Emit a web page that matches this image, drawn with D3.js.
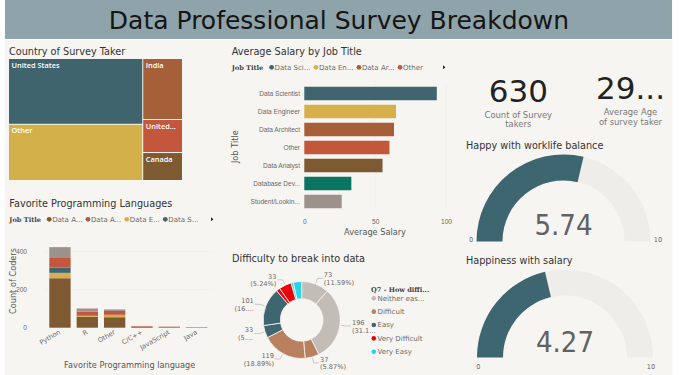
<!DOCTYPE html>
<html lang="en">
<head>
<meta charset="UTF-8" />
<title>Data Professional Survey Breakdown</title>
<script src="https://d3js.org/d3.v7.min.js"></script>
<style>
  body { margin: 0; background: #ffffff; }
  svg { display: block; font-family: "DejaVu Sans", sans-serif; }
  .panel-title { font-size: 9.7px; fill: #333; }
  .tick-label { font-size: 6.6px; fill: #6b6966; }
  .axis-title { font-size: 8.2px; fill: #555; }
  .legend-title { font-family: "DejaVu Serif", serif; font-weight: bold; font-size: 6.6px; fill: #444; }
  .legend-text { font-size: 7px; fill: #6b6966; }
  .grid { stroke: #e3e0db; stroke-width: 0.6; stroke-dasharray: 1 1.5; }
  .kpi-caption { font-size: 8.4px; fill: #777; }
</style>
</head>
<body>
<svg id="chart"></svg>
<script>
// ---- data ----
const dashboardTitle = "Data Professional Survey Breakdown";

const countries = ["United States", "Other", "India", "United Kingdom", "Canada"];
const countryCounts = [262, 224, 72, 39, 33];
const countryColors = ["#40646e", "#d4b04b", "#a5603a", "#c3563b", "#7d5a31"];

const jobTitles = ["Data Scientist", "Data Engineer", "Data Architect", "Other", "Data Analyst", "Database Developer", "Student/Looking/None"];
const avgSalary = [93.5, 64.7, 63.3, 60.1, 55.2, 33.2, 26.4];
const jobColors = ["#41656f", "#d5b04b", "#a65f38", "#c4573b", "#7d5a31", "#0c7561", "#9c928b"];
const salaryTicks = [0, 50, 100];

const languages = ["Python", "R", "Other", "C/C++", "JavaScript", "Java"];
const stackOrder = ["Data Analyst", "Data Architect", "Data Engineer", "Data Scientist", "Database Developer", "Other", "Student/Looking/None"];
const codersAnalyst   = [258, 57, 54, 4, 3, 2];
const codersArchitect = [3, 1, 2, 1, 0, 0];
const codersEngineer  = [27, 4, 10, 0, 0, 0];
const codersScientist = [26, 3, 2, 0, 0, 0];
const codersDbDev     = [2, 1, 0, 0, 0, 0];
const codersOther     = [50, 19, 20, 3, 2, 1];
const codersStudent   = [57, 16, 8, 1, 1, 0];
const coderTicks = [0, 200, 400];

const difficultyLevels = ["Neither easy nor difficult", "Difficult", "Easy", "Very Difficult", "Very Easy"];
const difficultyColors = ["#c2bdb7", "#b98060", "#3e6670", "#e8000b", "#2ad4e6"];
const difficultyPartA = [73, 37, 33, 10, 6];
const difficultyPartB = [196, 119, 101, 33, 22];

const surveyCount = 630;
const avgAge = 29.87;
const worklifeHappiness = 5.74;
const salaryHappiness = 4.27;
const gaugeMax = 10;

// ---- helpers ----
const W = 680, H = 375;
const svg = d3.select("#chart").attr("width", W).attr("height", H);

function fitText(sel, maxW) {
  sel.each(function () {
    const t = d3.select(this);
    let s = t.text();
    if (this.getComputedTextLength() <= maxW) return;
    while (s.length > 1) {
      s = s.slice(0, -1);
      t.text(s.trimEnd() + "...");
      if (this.getComputedTextLength() <= maxW) break;
    }
  });
}

function legend(g, x, y, title, items, maxItemW) {
  const t = g.append("text").attr("class", "legend-title").attr("x", x).attr("y", y).attr("dy", "0.35em").text(title);
  let cx = x + t.node().getComputedTextLength() + 6;
  items.forEach(it => {
    g.append("circle").attr("cx", cx + 2.3).attr("cy", y).attr("r", 2.4).attr("fill", it.color);
    const tx = g.append("text").attr("class", "legend-text").attr("x", cx + 5.3).attr("y", y).attr("dy", "0.35em").text(it.label);
    fitText(tx, maxItemW);
    cx += 5.3 + tx.node().getComputedTextLength() + 3.2;
  });
}

function arrow(g, x, y) {
  g.append("path").attr("d", `M${x},${y - 2}L${x + 2.4},${y}L${x},${y + 2}Z`).attr("fill", "#222");
}

// ---- background ----
svg.append("rect").attr("width", W).attr("height", H).attr("fill", "#fff");
svg.append("rect").attr("x", 5).attr("y", 0).attr("width", 667.5).attr("height", H).attr("fill", "#f7f5f1");
svg.append("rect").attr("x", 5).attr("y", 0).attr("width", 667).attr("height", 39).attr("fill", "#8fa3ab");
svg.append("rect").attr("x", 5).attr("y", 39).attr("width", 667.5).attr("height", 1).attr("fill", "#fcfbf9");
svg.append("text").attr("x", 339).attr("y", 29).attr("text-anchor", "middle")
  .attr("font-size", 25).attr("fill", "#151515").text(dashboardTitle);

// ---- treemap ----
{
  const g = svg.append("g");
  g.append("text").attr("class", "panel-title").attr("x", 9).attr("y", 54.5).text("Country of Survey Taker");
  const cols = [[], []];
  countries.forEach((c, i) => cols[i < 2 ? 0 : 1].push({ name: c, value: countryCounts[i], color: countryColors[i] }));
  const root = d3.hierarchy({ children: cols.map(c => ({ children: c })) }).sum(d => d.value || 0);
  d3.treemap().tile(d3.treemapSliceDice).size([173, 121]).paddingInner(1)(root);
  const cell = g.append("g").attr("transform", "translate(9,59)")
    .selectAll("g").data(root.leaves()).join("g")
    .attr("transform", d => `translate(${d.x0},${d.y0})`);
  cell.append("rect").attr("width", d => d.x1 - d.x0).attr("height", d => d.y1 - d.y0).attr("fill", d => d.data.color);
  cell.append("text").attr("x", 2.5).attr("y", 8.5)
    .attr("font-family", "'Open Sans', sans-serif").attr("font-weight", 600).attr("font-size", 7.4)
    .attr("fill", "#fff").text(d => d.data.name)
    .each(function (d) { fitText(d3.select(this), d.x1 - d.x0 - 4); });
}

// ---- average salary bar chart ----
{
  const g = svg.append("g");
  g.append("text").attr("class", "panel-title").attr("x", 231.7).attr("y", 55).text("Average Salary by Job Title");
  legend(g, 231.7, 67.3, "Job Title",
    jobTitles.slice(0, 4).map((j, i) => ({ label: j, color: jobColors[i] })), 36);
  arrow(g, 443, 67.3);

  const x = d3.scaleLinear().domain([0, 100]).range([304.3, 446]);
  const y = d3.scaleBand().domain(jobTitles).range([84.5, 210.5]).paddingInner(0.25).paddingOuter(0.125);

  g.selectAll("line.grid").data(salaryTicks.slice(1)).join("line").attr("class", "grid")
    .attr("x1", d => x(d)).attr("x2", d => x(d)).attr("y1", 84).attr("y2", 211);

  g.selectAll("rect.bar").data(jobTitles).join("rect").attr("class", "bar")
    .attr("x", x(0)).attr("y", d => y(d)).attr("height", y.bandwidth())
    .attr("width", (d, i) => x(avgSalary[i]) - x(0)).attr("fill", (d, i) => jobColors[i]);

  const ax = g.append("g").attr("transform", "translate(0,214)")
    .call(d3.axisBottom(x).tickValues(salaryTicks).tickSize(0).tickPadding(5.5));
  ax.select(".domain").remove();
  ax.selectAll("text").attr("class", "tick-label").attr("font-family", null).attr("font-size", null).attr("fill", null);

  const ay = g.append("g").attr("transform", "translate(304.3,0)")
    .call(d3.axisLeft(y).tickSize(0).tickPadding(4.3));
  ay.select(".domain").remove();
  ay.selectAll("text").attr("class", "tick-label").attr("font-family", null).attr("font-size", null).attr("fill", null)
    .each(function () { fitText(d3.select(this), 50); });

  g.append("text").attr("class", "axis-title").attr("x", 375).attr("y", 234.5).attr("text-anchor", "middle").text("Average Salary");
  g.append("text").attr("class", "axis-title").attr("transform", "translate(238,146.7) rotate(-90)")
    .attr("text-anchor", "middle").text("Job Title");
}

// ---- favorite programming languages ----
{
  const g = svg.append("g");
  g.append("text").attr("class", "panel-title").attr("x", 9.3).attr("y", 206.7).text("Favorite Programming Languages");
  const legendJobs = ["Data Analyst", "Data Architect", "Data Engineer", "Data Scientist"];
  legend(g, 9.3, 219.3, "Job Title",
    legendJobs.map(j => ({ label: j, color: jobColors[jobTitles.indexOf(j)] })), 31);
  arrow(g, 211, 219.3);

  const series = [codersAnalyst, codersArchitect, codersEngineer, codersScientist, codersDbDev, codersOther, codersStudent];
  const rows = languages.map((l, i) => {
    const r = { lang: l };
    stackOrder.forEach((k, j) => r[k] = series[j][i]);
    return r;
  });
  const stacked = d3.stack().keys(stackOrder)(rows);

  const x = d3.scaleBand().domain(languages).range([46.3, 210.3]).paddingInner(0.22).paddingOuter(0.11);
  const y = d3.scaleLinear().domain([0, 450]).range([327.7, 242]);

  g.selectAll("line.grid").data(coderTicks.slice(1)).join("line").attr("class", "grid")
    .attr("x1", 44).attr("x2", 214).attr("y1", d => y(d)).attr("y2", d => y(d));

  g.selectAll("g.layer").data(stacked).join("g").attr("class", "layer")
    .attr("fill", s => jobColors[jobTitles.indexOf(s.key)])
    .selectAll("rect").data(s => s).join("rect")
    .attr("x", d => x(d.data.lang)).attr("width", x.bandwidth())
    .attr("y", d => y(d[1])).attr("height", d => y(d[0]) - y(d[1]));

  const ay = g.append("g").attr("transform", "translate(31,0)")
    .call(d3.axisLeft(y).tickValues(coderTicks).tickSize(0).tickPadding(4));
  ay.select(".domain").remove();
  ay.selectAll("text").attr("class", "tick-label").attr("font-family", null).attr("font-size", null).attr("fill", null);

  g.selectAll("text.xlab").data(languages).join("text").attr("class", "tick-label xlab")
    .attr("text-anchor", "end")
    .attr("transform", d => `translate(${x(d) + x.bandwidth() / 2 + 1},${333.5}) rotate(-30)`)
    .text(d => d);

  g.append("text").attr("class", "axis-title").attr("x", 129.7).attr("y", 368).attr("text-anchor", "middle").text("Favorite Programming language");
  g.append("text").attr("class", "axis-title").attr("transform", "translate(15.5,281) rotate(-90)")
    .attr("text-anchor", "middle").text("Count of Coders");
}

// ---- difficulty donut ----
{
  const g = svg.append("g");
  g.append("text").attr("class", "panel-title").attr("x", 232).attr("y", 262.3).text("Difficulty to break into data");
  const cx = 301.7, cy = 320, rO = 38.5, rI = 21.3;
  const total = d3.sum(difficultyPartA) + d3.sum(difficultyPartB);
  const slices = [];
  difficultyLevels.forEach((lvl, i) => {
    slices.push({ level: lvl, value: difficultyPartA[i], color: difficultyColors[i] });
    slices.push({ level: lvl, value: difficultyPartB[i], color: difficultyColors[i] });
  });
  const arcs = d3.pie().sort(null).value(d => d.value)(slices);
  const arc = d3.arc().innerRadius(rI).outerRadius(rO);
  const dg = g.append("g").attr("transform", `translate(${cx},${cy})`);
  dg.selectAll("path").data(arcs).join("path").attr("d", arc)
    .attr("fill", d => d.data.color).attr("stroke", "#f7f5f1").attr("stroke-width", 0.8);

  const pct = d3.format(".2%");
  arcs.filter(d => d.data.value >= 30).forEach(d => {
    const a = (d.startAngle + d.endAngle) / 2;
    const sx = Math.sin(a), sy = -Math.cos(a);
    const right = sx >= 0;
    const p0 = [sx * (rO + 1), sy * (rO + 1)];
    const p1 = [sx * (rO + 6), sy * (rO + 6)];
    const p2 = [p1[0] + (right ? 5 : -5), p1[1]];
    dg.append("polyline").attr("points", [p0, p1, p2].map(p => p.join(",")).join(" "))
      .attr("fill", "none").attr("stroke", "#aaa").attr("stroke-width", 0.6);
    const tx = cx + p2[0] + (right ? 1.2 : -1.2);
    const anchor = right ? "start" : "end";
    const avail = right ? 376 - tx : tx - 234;
    g.append("text").attr("class", "tick-label").attr("x", tx).attr("y", cy + p2[1] - 1.2)
      .attr("text-anchor", anchor).text(d.data.value);
    g.append("text").attr("class", "tick-label").attr("x", tx).attr("y", cy + p2[1] + 6.6)
      .attr("text-anchor", anchor).text(`(${pct(d.data.value / total)})`)
      .each(function () { fitText(d3.select(this), avail); });
  });

  g.append("text").attr("class", "legend-title").attr("x", 371).attr("y", 289.3).attr("dy", "0.35em").text("Q7 - How difficult was it for you to break into Data?")
    .each(function () { fitText(d3.select(this), 60); });
  difficultyLevels.forEach((lvl, i) => {
    const yy = 298.3 + i * 13.35;
    g.append("circle").attr("cx", 373.8).attr("cy", yy).attr("r", 2.3).attr("fill", difficultyColors[i]);
    g.append("text").attr("class", "legend-text").attr("font-size", 7.2).attr("x", 377.5).attr("y", yy).attr("dy", "0.35em").text(lvl)
      .each(function () { fitText(d3.select(this), 50); });
  });
}

// ---- KPI cards ----
{
  const g = svg.append("g");
  g.append("text").attr("x", 518.3).attr("y", 101.7).attr("text-anchor", "middle")
    .attr("font-size", 31).attr("fill", "#222").text(d3.format("d")(surveyCount));
  g.append("text").attr("class", "kpi-caption").attr("x", 518.3).attr("y", 117.5).attr("text-anchor", "middle").text("Count of Survey");
  g.append("text").attr("class", "kpi-caption").attr("x", 518.3).attr("y", 126.7).attr("text-anchor", "middle").text("takers");

  g.append("text").attr("x", 630.5).attr("y", 99.3).attr("text-anchor", "middle")
    .attr("font-size", 31).attr("fill", "#222").text(String(Math.floor(avgAge)) + "...");
  g.append("text").attr("class", "kpi-caption").attr("x", 630.5).attr("y", 114.5).attr("text-anchor", "middle").text("Average Age");
  g.append("text").attr("class", "kpi-caption").attr("x", 630.5).attr("y", 124.5).attr("text-anchor", "middle").text("of survey taker");
}

// ---- gauges ----
function gauge(title, titleY, value, cx, cy, rO, rI, valueY, minPos, maxPos) {
  const g = svg.append("g");
  g.append("text").attr("class", "panel-title").attr("x", 466).attr("y", titleY).text(title);
  const angle = d3.scaleLinear().domain([0, gaugeMax]).range([-Math.PI / 2, Math.PI / 2]);
  const arc = d3.arc().innerRadius(rI).outerRadius(rO);
  const gg = g.append("g").attr("transform", `translate(${cx},${cy})`);
  gg.append("path").attr("d", arc({ startAngle: angle(0), endAngle: angle(gaugeMax) })).attr("fill", "#efedea");
  gg.append("path").attr("d", arc({ startAngle: angle(0), endAngle: angle(value) })).attr("fill", "#3e6670");
  g.append("text").attr("x", cx).attr("y", valueY).attr("text-anchor", "middle")
    .attr("font-family", "'Liberation Sans Narrow', 'DejaVu Sans Condensed', sans-serif")
    .attr("font-size", 29).attr("fill", "#626262").text(d3.format(".2f")(value));
  g.append("text").attr("class", "tick-label").attr("x", minPos[0]).attr("y", minPos[1]).attr("text-anchor", "middle").text(0);
  g.append("text").attr("class", "tick-label").attr("x", maxPos[0]).attr("y", maxPos[1]).attr("text-anchor", "middle").text(gaugeMax);
}
gauge("Happy with worklife balance", 148.5, worklifeHappiness, 563.5, 241.5, 87, 61, 235, [471, 241.5], [658, 241.5]);
gauge("Happiness with salary", 263.5, salaryHappiness, 565, 357.5, 88, 62, 351.7, [478.3, 369], [651, 369]);
</script>
</body>
</html>
